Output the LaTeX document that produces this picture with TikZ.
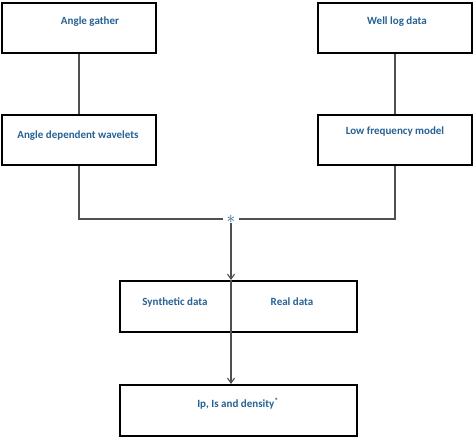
\documentclass[tikz,border=0pt]{standalone}
\usepackage{fontspec}
\setmainfont{Carlito}
\usetikzlibrary{arrows.meta,calc}
\definecolor{txtblue}{RGB}{38,98,148}
\definecolor{linegrey}{RGB}{80,80,80}
\tikzset{
  box/.style={draw=black, line width=1.8pt, rectangle, minimum width=154pt, minimum height=50pt, inner sep=0pt},
  widebox/.style={box, minimum width=237pt, minimum height=51pt},
  txt/.style={text=txtblue, font=\bfseries\fontsize{11}{13}\selectfont, inner sep=0pt},
  conn/.style={draw=linegrey, line width=1.1pt},
  arr/.style={conn, -{Straight Barb[length=5pt,width=7pt]}}
}
\begin{document}
\begin{tikzpicture}[x=1pt,y=-1pt]
\useasboundingbox (0,0) rectangle (474,438);
\fill[white] (0,0) rectangle (474,438);
% boxes
\node[box] (b1) at (79,28) {};
\node[box] (b2) at (79,140) {};
\node[box] (b3) at (395,28) {};
\node[box] (b4) at (395,140) {};
\node[widebox] (b5) at (238.5,306.5) {};
\node[widebox] (b6) at (238.5,410.5) {};
% texts
\node[txt] (t1) at (90,22) {Angle gather};
\node[txt] (t2) at (78,136) {Angle dependent wavelets};
\node[txt] (t3) at (397,22) {Well log data};
\node[txt] (t4) at (395,132) {Low frequency model};
\node[txt] (t5a) at (175,302) {Synthetic data};
\node[txt] (t5b) at (292,302) {Real data};
\node[txt] (t6) at (238,404) {Ip, Is and density\textsuperscript{*}};
% junction star
\node[text=txtblue, font=\fontsize{17}{17}\selectfont, inner sep=0pt, minimum width=16pt] (star) at (231,219) {$\ast$};
\coordinate (d5) at (231,280);
\coordinate (d6) at (231,384);
% connectors
\draw[conn] (b1.south) -- (b2.north);
\draw[conn] (b3.south) -- (b4.north);
\draw[conn] (b2.south) |- (star.west);
\draw[conn] (b4.south) |- (star.east);
\draw[arr] (star.south) -- (d5);
\draw[arr] (d5) -- (d6);
\end{tikzpicture}
\end{document}
